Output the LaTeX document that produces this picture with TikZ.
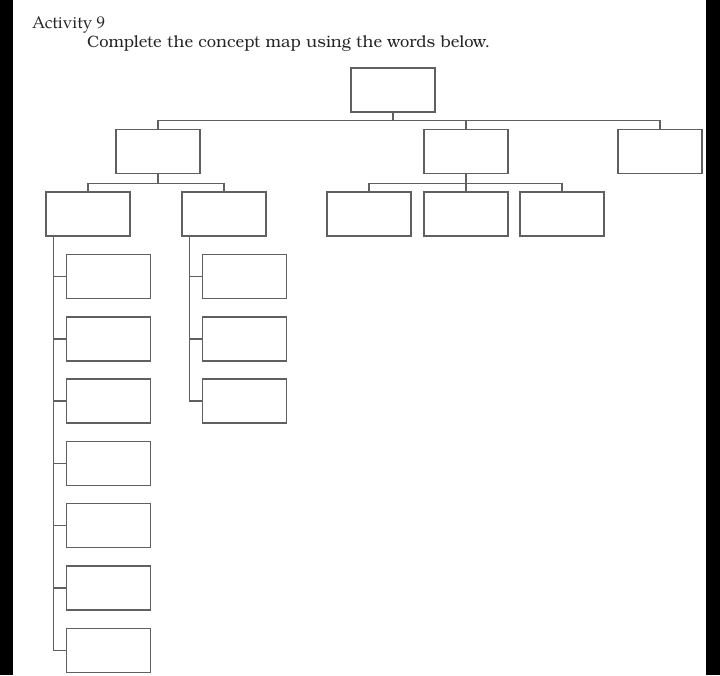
\documentclass[tikz,border=0pt]{standalone}
\usepackage{fontspec}
\setmainfont{TeX Gyre Bonum}
\newfontfamily\headfont{TeX Gyre Pagella}
\begin{document}
\begin{tikzpicture}[x=1pt,y=-1pt,
	box/.style={draw=gray!75!black, line width=1.5pt, minimum width=84pt, minimum height=44pt, inner sep=0pt},
	link/.style={draw=gray!75!black, line width=1.4pt}]
	\useasboundingbox (0,0) rectangle (720,675);
	\fill[black] (0,0) rectangle (13,675);
	\fill[black] (706,0) rectangle (720,675);
	\node[anchor=base west, text=black!85, font=\headfont\fontsize{17}{19}\selectfont, inner sep=0pt] (act) at (32,28) {Activity 9};
	\node[anchor=base west, text=black!85, font=\fontsize{16.5}{19}\selectfont, inner sep=0pt] (task) at (87,47) {Complete the concept map using the words below.};
	% top and second row
	\node[box] (top) at (393,90) {};
	\node[box] (a) at (158,151.5) {};
	\node[box] (b) at (466,151.5) {};
	\node[box] (c) at (660,151.5) {};
	% third row
	\node[box] (a1) at (88,214) {};
	\node[box] (a2) at (224,214) {};
	\node[box] (b1) at (369,214) {};
	\node[box] (b2) at (466,214) {};
	\node[box] (b3) at (562,214) {};
	\foreach \n in {a,b,c} \draw[link] (top.south) -- ++(0,8) -| (\n.north);
	\foreach \n in {a1,a2} \draw[link] (a.south) -- ++(0,9) -| (\n.north);
	\foreach \n in {b1,b2,b3} \draw[link] (b.south) -- ++(0,9) -| (\n.north);
	% columns
	\foreach \k in {1,...,7} {
		\node[box] (p\k) at (108.5,{276.5+62.3*(\k-1)}) {};
		\draw[link] ([xshift=8pt]a1.south west) |- (p\k.west);
	}
	\foreach \k in {1,2,3} {
		\node[box] (q\k) at (244.5,{276.5+62.3*(\k-1)}) {};
		\draw[link] ([xshift=8pt]a2.south west) |- (q\k.west);
	}
\end{tikzpicture}
\end{document}
